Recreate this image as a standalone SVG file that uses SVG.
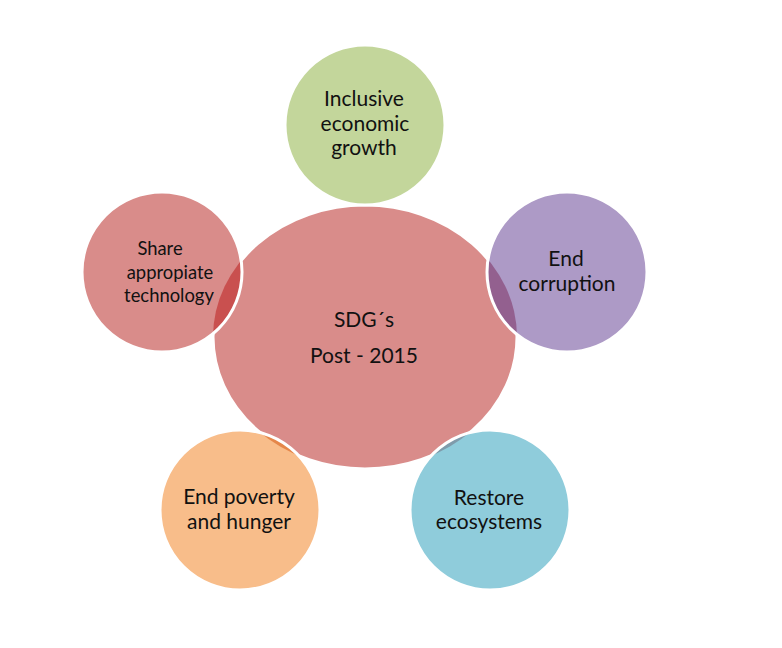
<svg xmlns="http://www.w3.org/2000/svg" width="782" height="648" viewBox="0 0 782 648">
  <style>
    .lbl { font-family: Lato, "Open Sans", "Liberation Sans", sans-serif; font-size: 21px; fill: #111; text-anchor: middle; }
    .sm { font-size: 18.4px; }
    .big { font-size: 21px; }
    .edge { fill: none; stroke: #fff; stroke-width: 3; }
  </style>
  <defs>
    <ellipse id="core" cx="365" cy="337" rx="152" ry="132"/>
    <clipPath id="cL"><circle cx="162" cy="272" r="80"/></clipPath>
    <clipPath id="cR"><circle cx="567" cy="272" r="80"/></clipPath>
    <clipPath id="cBL"><circle cx="240" cy="510" r="80"/></clipPath>
    <clipPath id="cBR"><circle cx="490" cy="510" r="80"/></clipPath>
  </defs>
  <rect width="782" height="648" fill="#fff"/>

  <g id="center">
    <use href="#core" fill="#D98C8A" stroke="#fff" stroke-width="3"/>
    <text class="lbl big" x="364" y="327">SDG´s</text>
    <text class="lbl big" x="364" y="363">Post - 2015</text>
  </g>

  <g id="node-growth">
    <circle cx="365" cy="125" r="80" fill="#C3D69B"/>
    <circle class="edge" cx="365" cy="125" r="80"/>
    <text class="lbl" x="364" y="106">Inclusive</text>
    <text class="lbl" x="365" y="131">economic</text>
    <text class="lbl" x="364" y="155">growth</text>
  </g>

  <g id="node-corruption">
    <circle cx="567" cy="272" r="80" fill="#AD9AC6"/>
    <use href="#core" fill="#93608F" clip-path="url(#cR)"/>
    <circle class="edge" cx="567" cy="272" r="80"/>
    <text class="lbl" x="566" y="266">End</text>
    <text class="lbl" x="567" y="291">corruption</text>
  </g>

  <g id="node-ecosystems">
    <circle cx="490" cy="510" r="80" fill="#8FCCDB"/>
    <use href="#core" fill="#7F9BAB" clip-path="url(#cBR)"/>
    <circle class="edge" cx="490" cy="510" r="80"/>
    <text class="lbl" x="489" y="505">Restore</text>
    <text class="lbl" x="489" y="529">ecosystems</text>
  </g>

  <g id="node-poverty">
    <circle cx="240" cy="510" r="80" fill="#F8BD8A"/>
    <use href="#core" fill="#E5874A" clip-path="url(#cBL)"/>
    <circle class="edge" cx="240" cy="510" r="80"/>
    <text class="lbl" x="239" y="504">End poverty</text>
    <text class="lbl" x="239" y="529">and hunger</text>
  </g>

  <g id="node-technology">
    <circle cx="162" cy="272" r="80" fill="#D98C8A"/>
    <use href="#core" fill="#C9504F" clip-path="url(#cL)"/>
    <circle class="edge" cx="162" cy="272" r="80"/>
    <text class="lbl sm" x="160" y="255">Share</text>
    <text class="lbl sm" x="170" y="279">appropiate</text>
    <text class="lbl sm" x="169" y="302">technology</text>
  </g>
</svg>
